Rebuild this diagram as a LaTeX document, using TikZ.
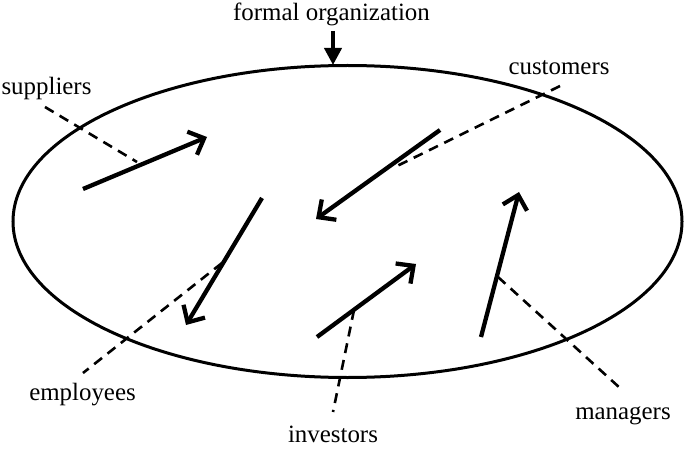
\documentclass[tikz,border=0pt]{standalone}
\usepackage{fontspec}
\setmainfont{Liberation Serif}
\usetikzlibrary{arrows.meta}
\begin{document}
\begin{tikzpicture}[x=1pt,y=-1pt,
  lbl/.style={anchor=base,inner sep=0pt,font=\fontsize{24.9}{28}\selectfont},
  flow/.style={line width=4.3pt,-{Straight Barb[length=13pt,width=25pt]}},
  link/.style={line width=2.6pt,dash pattern=on 10pt off 7pt},
  rim/.style={line width=3pt},
  entry/.style={line width=4pt,-{Triangle[length=17pt,width=17pt]}}]
\useasboundingbox (0,0) rectangle (685,449);
% ellipse
\draw[rim] (347.5,221.5) ellipse [x radius=334.5, y radius=156];
% labels
\node[lbl] (form) at (331.5,21) {formal organization};
\node[lbl] (sup) at (46.5,95) {suppliers};
\node[lbl] (cus) at (559,75) {customers};
\node[lbl] (emp) at (82.5,400) {employees};
\node[lbl] (inv) at (333,442) {investors};
\node[lbl] (man) at (623,419) {managers};
% formal organization arrow
\coordinate (fa) at (333,31);
\coordinate (fb) at (333,65);
\draw[entry] (fa) -- (fb);
% arrows
\coordinate (a1s) at (83,189);
\coordinate (a1e) at (207,137);
\coordinate (a2s) at (440,130);
\coordinate (a2e) at (316,219);
\coordinate (a3s) at (262,198);
\coordinate (a3e) at (186,325);
\coordinate (a4s) at (317,337);
\coordinate (a4e) at (416,264);
\coordinate (a5s) at (481,337);
\coordinate (a5e) at (519,192);
\draw[flow] (a1s) -- (a1e);
\draw[flow] (a2s) -- (a2e);
\draw[flow] (a3s) -- (a3e);
\draw[flow] (a4s) -- (a4e);
\draw[flow] (a5s) -- (a5e);
% dashed links
\coordinate (d1a) at (45,107);
\coordinate (d1b) at (137,162);
\coordinate (d2a) at (560,86);
\coordinate (d2b) at (395,167);
\coordinate (d3a) at (222,263);
\coordinate (d3b) at (83,373);
\coordinate (d4a) at (354,310);
\coordinate (d4b) at (333,412);
\coordinate (d5a) at (498,277);
\coordinate (d5b) at (620,388);
\draw[link] (d1a) -- (d1b);
\draw[link] (d2a) -- (d2b);
\draw[link] (d3a) -- (d3b);
\draw[link] (d4a) -- (d4b);
\draw[link] (d5a) -- (d5b);
\end{tikzpicture}
\end{document}
